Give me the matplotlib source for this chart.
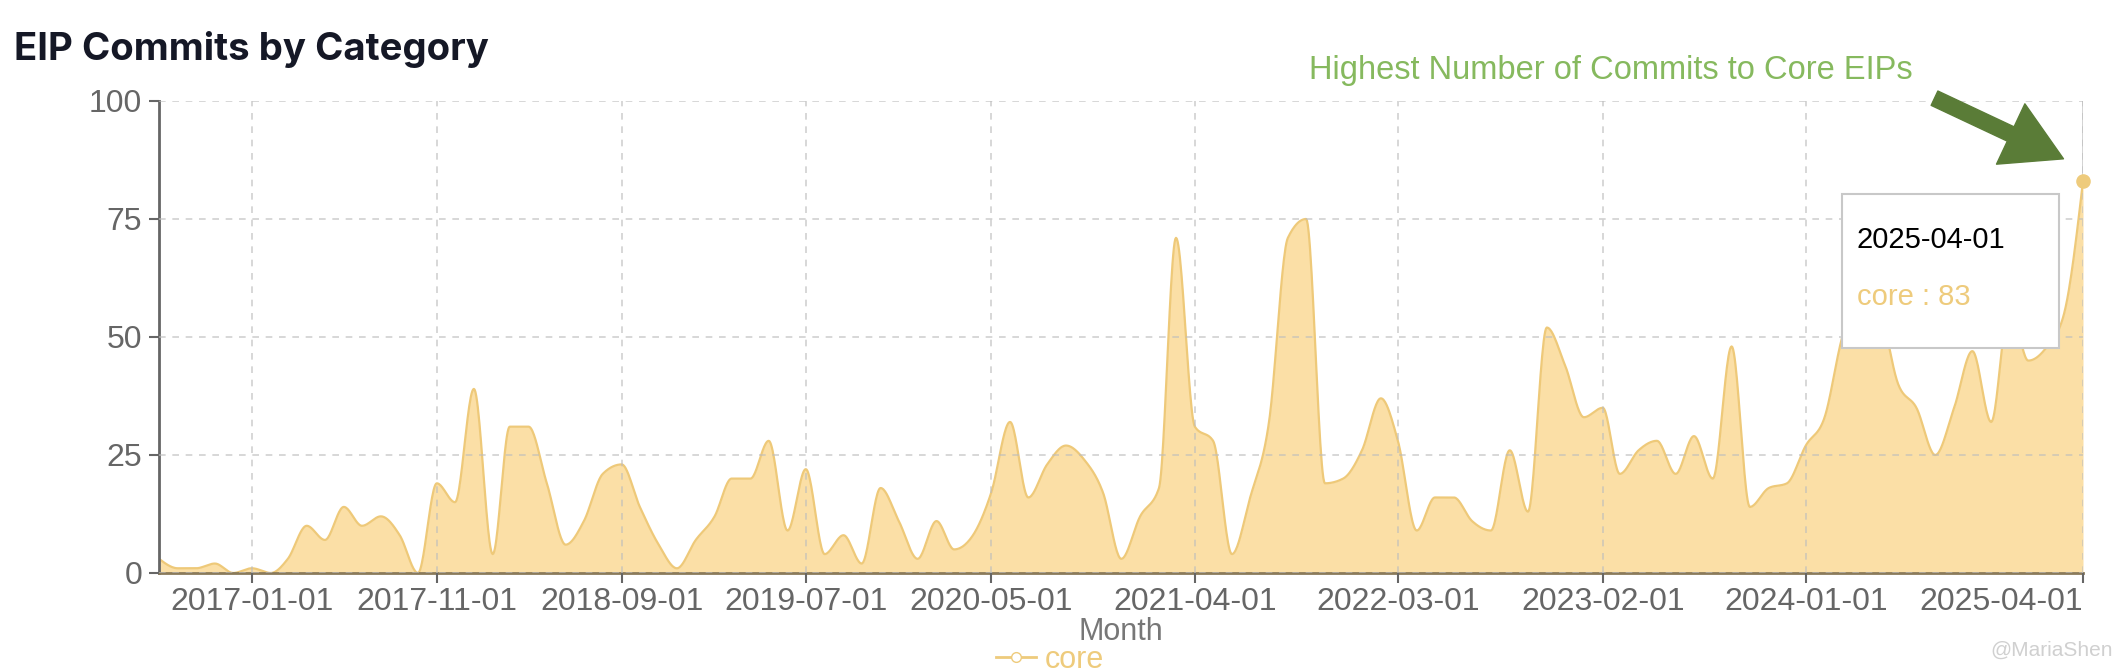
import numpy as np
import pandas as pd
import matplotlib
matplotlib.use("Agg")
import matplotlib.pyplot as plt
import matplotlib.dates as mdates
from matplotlib.lines import Line2D
from matplotlib import font_manager

# monthly commits to core EIPs, 2016-08 .. 2025-04
months = pd.date_range("2016-08-01", "2025-04-01", freq="MS")
core = [3, 1, 1, 2, 0, 1, 0, 3, 10, 7, 14, 10, 12, 8, 0, 19, 15, 39, 4, 31,
        31, 19, 6, 11, 21, 23, 14, 6, 1, 7, 12, 20, 20, 28, 9, 22, 4, 8, 2, 18,
        11, 3, 11, 5, 8, 17, 32, 16, 23, 27, 24, 17, 3, 12, 18, 71, 31, 28, 4, 16,
        32, 71, 75, 19, 20, 26, 37, 28, 9, 16, 16, 11, 9, 26, 13, 52, 44, 33, 35, 21,
        26, 28, 21, 29, 20, 48, 14, 18, 19, 27, 33, 50, 60, 56, 40, 35, 25, 35, 47, 32,
        57, 45, 48, 55, 83]

tick_dates = ["2017-01-01", "2017-11-01", "2018-09-01", "2019-07-01", "2020-05-01",
              "2021-04-01", "2022-03-01", "2023-02-01", "2024-01-01", "2025-04-01"]
y_ticks = [0, 25, 50, 75, 100]

FILL = "#fbdfa6"
LINE = "#eec979"
GOLD = "#eecb7c"
GRAY = "#666666"

# 좁은 글꼴이 있으면 사용(원본이 condensed 느낌)
_names = {f.name for f in font_manager.fontManager.ttflist}
if "Liberation Sans Narrow" in _names:
    NARROW = ["Liberation Sans Narrow", "DejaVu Sans"]
    TICK_FS, LABEL_FS, NOTE_FS = 27, 26, 27
else:
    NARROW = ["Liberation Sans", "DejaVu Sans"]
    TICK_FS, LABEL_FS, NOTE_FS = 23, 22, 23.5


def _monotone(x, y, per=24):
    """d3 curveMonotoneX 스타일 곡선(그리기 전용)."""
    x = np.asarray(x, float); y = np.asarray(y, float)
    h = np.diff(x); s = np.diff(y) / h
    n = len(x)
    m = np.zeros(n)
    for k in range(1, n - 1):
        s0, s1, h0, h1 = s[k - 1], s[k], h[k - 1], h[k]
        p = (s0 * h1 + s1 * h0) / (h0 + h1)
        m[k] = (np.sign(s0) + np.sign(s1)) * min(abs(s0), abs(s1), 0.5 * abs(p))
    m[0] = (3 * s[0] - m[1]) / 2
    m[-1] = (3 * s[-1] - m[-2]) / 2
    xs, ys = [], []
    for k in range(n - 1):
        t = np.linspace(0, 1, per, endpoint=False)
        h00 = 2 * t**3 - 3 * t**2 + 1
        h10 = t**3 - 2 * t**2 + t
        h01 = -2 * t**3 + 3 * t**2
        h11 = t**3 - t**2
        xs.append(x[k] + t * h[k])
        ys.append(h00 * y[k] + h10 * h[k] * m[k] + h01 * y[k + 1] + h11 * h[k] * m[k + 1])
    xs.append([x[-1]]); ys.append([y[-1]])
    return np.concatenate(xs), np.concatenate(ys)


plt.rcParams["font.family"] = NARROW

fig = plt.figure(figsize=(21.16, 6.72), dpi=100)
ax = fig.add_axes([159 / 2116, 99 / 672, 1924 / 2116, 472 / 672])

xnum = mdates.date2num(months.to_pydatetime())
cx, cy = _monotone(xnum, core)
ax.fill_between(cx, 0, cy, color=FILL, linewidth=0, zorder=1)
ax.plot(cx, cy, color=LINE, linewidth=1.6, zorder=2)
ax.scatter([xnum[-1]], [core[-1]], s=90, color=GOLD, zorder=5, clip_on=False)

ax.set_xlim(xnum[0], xnum[-1])
ax.set_ylim(0, 100)
tick_num = mdates.date2num(pd.to_datetime(tick_dates).to_pydatetime())
ax.set_xticks(tick_num, tick_dates)
ax.set_yticks(y_ticks)
ax.tick_params(axis="both", labelsize=TICK_FS, colors=GRAY, length=7, width=1.5, pad=5)
ax.tick_params(axis="x", pad=3)
ax.get_xticklabels()[-1].set_horizontalalignment("right")
ax.grid(True, linestyle=(0, (4, 4)), color="#bdbdbd", linewidth=1.2, alpha=0.7, zorder=3)
ax.set_axisbelow(False)
for side in ("top", "right"):
    ax.spines[side].set_visible(False)
ax.spines["left"].set_color(GRAY)
ax.spines["left"].set_linewidth(2)
ax.spines["bottom"].set_color("#8a7a5a")
ax.spines["bottom"].set_linewidth(2)
ax.axvline(xnum[-1], color="#cccccc", linewidth=1.2, zorder=0)
ax.set_xlabel("Month", fontsize=LABEL_FS, color="#777777", labelpad=0)

fig.text(14 / 2116, 1 - 50 / 672, "EIP Commits by Category", fontsize=27.6,
         fontweight="bold", family=["Inter", "DejaVu Sans"], color="#151826", va="center")

# tooltip
fig.patches.append(plt.Rectangle((1842 / 2116, 1 - 348 / 672), 217 / 2116, 154 / 672,
                                 transform=fig.transFigure, facecolor="white",
                                 edgecolor="#c8c8c8", linewidth=1.5, zorder=10))
fig.text(1857 / 2116, 1 - 240 / 672, "2025-04-01", fontsize=21, color="black",
         family=["Liberation Sans", "DejaVu Sans"], va="center", zorder=11)
fig.text(1857 / 2116, 1 - 297 / 672, f"core : {core[-1]}", fontsize=21, color=GOLD,
         family=["Liberation Sans", "DejaVu Sans"], va="center", zorder=11)

# annotation
fig.text(1309 / 2116, 1 - 70 / 672, "Highest Number of Commits to Core EIPs",
         fontsize=NOTE_FS, color="#86b95e", va="center")
ax.annotate("", xy=(2066, 672 - 160), xycoords="figure pixels",
            xytext=(1932, 672 - 97), textcoords="figure pixels",
            arrowprops=dict(arrowstyle="simple,head_length=1.4,head_width=1.6,tail_width=0.38",
                            color="#5a7c37", mutation_scale=30))

# legend
handle = Line2D([], [], color=GOLD, marker="o", markerfacecolor="white",
                markeredgecolor=GOLD, markersize=7, linewidth=2)
fig.legend([handle], ["core"], loc="center", bbox_to_anchor=(1050 / 2116, 12 / 672),
           frameon=False, fontsize=LABEL_FS, labelcolor=GOLD, handlelength=1.3,
           handletextpad=0.3)

fig.text(1990 / 2116, 1 - 650 / 672, "@MariaShen", fontsize=15, color="#d0d0d0", va="center")

fig.savefig("out.png", dpi=100)
